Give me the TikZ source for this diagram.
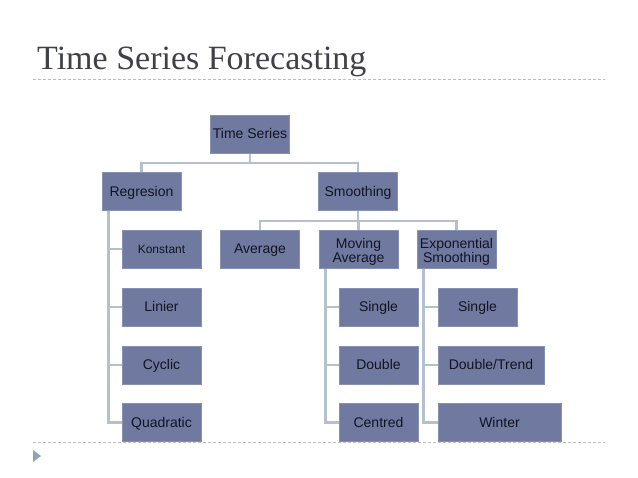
\documentclass[tikz,border=0pt]{standalone}
\usepackage{fontspec}
\setmainfont{Liberation Serif}
\setsansfont{Liberation Sans}
\usetikzlibrary{positioning, backgrounds}

\definecolor{boxblue}{RGB}{112,121,160}
\definecolor{boxedge}{RGB}{135,145,180}
\definecolor{boxtext}{RGB}{18,20,34}
\definecolor{linkgray}{RGB}{180,193,204}
\definecolor{titlegray}{RGB}{64,64,72}
\definecolor{rulecyan}{RGB}{168,196,212}
\definecolor{rulegray}{RGB}{190,192,196}
\definecolor{bullet}{RGB}{140,164,190}

\tikzset{
  box/.style={fill=boxblue, draw=boxedge, line width=0.6pt, minimum width=79,
    minimum height=38, inner sep=0pt, align=center, text=boxtext,
    text height=10pt, text depth=0pt,
    font=\sffamily\fontsize{14}{14}\selectfont},
  twoline/.style={text height=29pt, text depth=2pt},
  link/.style={draw=linkgray, line width=2.6pt}
}

\begin{document}
\begin{tikzpicture}[x=1pt, y=-1pt]
  \useasboundingbox (0,0) rectangle (638,478);
  % Title
  \node[anchor=base west, inner sep=0pt, text=titlegray,
    font=\fontsize{34}{34}\selectfont] (title) at (37,70) {Time Series Forecasting};
  \draw[rulecyan, densely dashed, line width=0.8pt] (33,79) -- (605,79);
  \draw[rulegray, densely dashed, line width=0.8pt] (33,442) -- (605,442);
  \fill[bullet] (33,450) -- (41,456) -- (33,462) -- cycle;

  \coordinate (tsbar) at (250,163);
  \coordinate (smbar) at (358,221);

  % Top level
  \node[box] (ts) at (250,134) {Time Series};
  \node[box] (reg) at (141.5,191.5) {Regresion};
  \node[box] (sm) at (358,191.5) {Smoothing};
  % Smoothing children
  \node[box] (avg) at (260,249) {Average};
  \node[box, twoline] (ma) at (358.5,249) {Moving\\Average};
  \node[box, twoline] (es) at (456.5,249) {Exponential\\Smoothing};
  % Regresion children
  \node[box, font=\sffamily\fontsize{12}{12}\selectfont, text height=8.5pt] (kon) at (161.5,249) {Konstant};
  \node[box] (lin) at (161.5,307) {Linier};
  \node[box] (cyc) at (161.5,365) {Cyclic};
  \node[box] (quad) at (161.5,422.5) {Quadratic};
  % Moving average children
  \node[box] (masingle) at (378.5,307) {Single};
  \node[box] (madouble) at (378.5,365) {Double};
  \node[box] (macentred) at (378.5,422.5) {Centred};
  % Exponential smoothing children
  \node[box] (essingle) at (477.5,307) {Single};
  \node[box, minimum width=106] (estrend) at (491,365) {Double/Trend};
  \node[box, minimum width=123] (eswinter) at (499.5,422.5) {Winter};

  \begin{scope}[on background layer]
    \fill[white] (0,0) rectangle (638,478);
    % Links from Time Series
    \draw[link] (ts.south) -- (tsbar) -| (reg.north);
    \draw[link] (ts.south) -- (tsbar) -| (sm.north);
    % Links from Smoothing
    \draw[link] (sm.south) -- (smbar) -| (avg.north);
    \draw[link] (sm.south) -- (smbar) -| (ma.north);
    \draw[link] (sm.south) -- (smbar) -| (es.north);
    % Side links
    \foreach \c in {kon,lin,cyc,quad}
      \draw[link] ([xshift=7]reg.south west) |- (\c.west);
    \foreach \c in {masingle,madouble,macentred}
      \draw[link] ([xshift=7]ma.south west) |- (\c.west);
    \foreach \c in {essingle,estrend,eswinter}
      \draw[link] ([xshift=7]es.south west) |- (\c.west);
  \end{scope}
\end{tikzpicture}
\end{document}
